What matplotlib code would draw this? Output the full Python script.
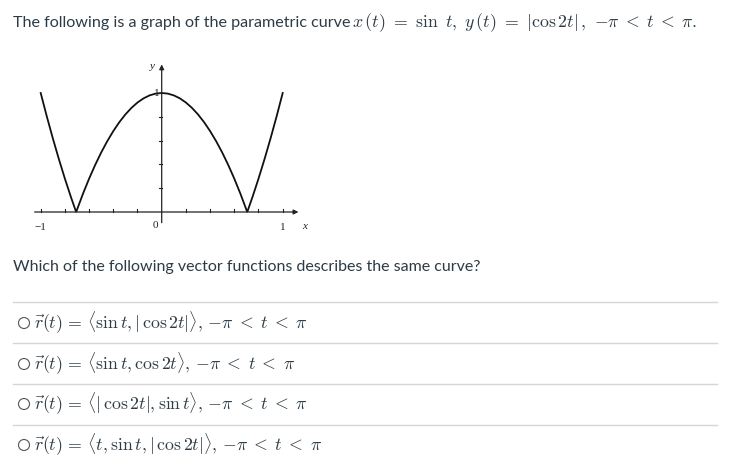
import matplotlib
matplotlib.use("Agg")
import matplotlib.pyplot as plt
from matplotlib.patches import Ellipse
from matplotlib.lines import Line2D

plt.rcParams['mathtext.fontset'] = 'cm'

W, H = 731, 475

# ---- data ----
curve_x = [-1.0, -0.95, -0.9, -0.85, -0.8, -0.75, -0.707, -0.65, -0.6, -0.55, -0.5,
           -0.45, -0.4, -0.35, -0.3, -0.25, -0.2, -0.15, -0.1, -0.05, 0.0,
           0.05, 0.1, 0.15, 0.2, 0.25, 0.3, 0.35, 0.4, 0.45, 0.5,
           0.55, 0.6, 0.65, 0.707, 0.75, 0.8, 0.85, 0.9, 0.95, 1.0]
curve_y = [1.0, 0.805, 0.62, 0.445, 0.28, 0.125, 0.0, 0.155, 0.28, 0.395, 0.5,
           0.595, 0.68, 0.755, 0.82, 0.875, 0.92, 0.955, 0.98, 0.995, 1.0,
           0.995, 0.98, 0.955, 0.92, 0.875, 0.82, 0.755, 0.68, 0.595, 0.5,
           0.395, 0.28, 0.155, 0.0, 0.125, 0.28, 0.445, 0.62, 0.805, 1.0]
x_ticks = [-1.0, -0.8, -0.6, -0.4, -0.2, 0.2, 0.4, 0.6, 0.8, 1.0]
y_ticks = [0.2, 0.4, 0.6, 0.8, 1.0]
x_tick_labels = {-1.0: '\u22121', 1.0: '1'}

title_text = "The following is a graph of the parametric curve"
title_math = r"$x\,(t)\ =\ \sin\ t,\ y\,(t)\ =\ |\cos 2t|\,,\ {-\pi}\; <\; t\; <\; \pi.$"
question = "Which of the following vector functions describes the same curve?"
options = [
    r"$\vec{r}(t)\,=\,\langle\sin t, |\,\cos 2t|\rangle,\, {-\pi}\;<\;t\;<\;\pi$",
    r"$\vec{r}(t)\,=\,\langle\sin t, \cos 2t\rangle,\, {-\pi}\;<\;t\;<\;\pi$",
    r"$\vec{r}(t)\,=\,\langle|\,\cos 2t|, \sin t\rangle,\, {-\pi}\;<\;t\;<\;\pi$",
    r"$\vec{r}(t)\,=\,\langle t, \sin t, |\,\cos 2t|\rangle,\, {-\pi}\;<\;t\;<\;\pi$",
]

fig = plt.figure(figsize=(W / 100, H / 100), dpi=100)
fig.patch.set_facecolor('white')


def fx(px):
    return px / W


def fy(py):
    return 1 - py / H


TXT = '#2d3b45'

# ---- texts ----
fig.text(fx(13), fy(23), title_text, family='Lato', fontsize=11.6, color=TXT,
         va='center', ha='left')
fig.text(fx(352), fy(23), title_math, fontsize=12.8, color=TXT, va='center', ha='left')
fig.text(fx(13), fy(267), question, family='Lato', fontsize=11.5, color=TXT,
         va='center', ha='left')

sep_y = [302, 343, 384, 425]
opt_y = [323, 364, 404, 445]
for yy in sep_y:
    fig.add_artist(Line2D([fx(13), fx(717)], [fy(yy), fy(yy)], color='#d6d6d6', lw=1.0))
for yy, s in zip(opt_y, options):
    fig.add_artist(Ellipse((fx(24), fy(yy)), 11 / W, 11 / H, fill=False,
                           edgecolor='#555555', lw=0.8))
    fig.text(fx(34), fy(yy), s, fontsize=12.8, color=TXT, va='center', ha='left')

# ---- plot ----
x_lo, x_hi = -1.1, 1.2
y_lo, y_hi = -0.15, 1.25
sx, sy = 121.0, 119.0
x0px, y0px = 161.7, 212.0
left_px = x0px + x_lo * sx
ax = fig.add_axes([fx(left_px), 1 - (y0px - y_lo * sy) / H,
                   (x_hi - x_lo) * sx / W, (y_hi - y_lo) * sy / H])
ax.set_xlim(x_lo, x_hi)
ax.set_ylim(y_lo, y_hi)
ax.axis('off')

ax.plot(curve_x, curve_y, color='#111111', lw=1.3, solid_joinstyle='miter')

# axes with arrows
ax.annotate('', xy=(1.13, 0), xytext=(-1.05, 0),
            arrowprops=dict(arrowstyle='-|>', color='#222222', lw=0.9,
                            mutation_scale=7, shrinkA=0, shrinkB=0))
ax.annotate('', xy=(0, 1.24), xytext=(0, -0.09),
            arrowprops=dict(arrowstyle='-|>', color='#222222', lw=0.9,
                            mutation_scale=7, shrinkA=0, shrinkB=0))
for t in x_ticks:
    ax.plot([t, t], [0, 0.025], color='#222222', lw=0.8)
for t in y_ticks:
    ax.plot([-0.025, 0], [t, t], color='#222222', lw=0.8)

serif = 'Liberation Serif'
for t, lab in x_tick_labels.items():
    ax.text(t, -0.13, lab, family=serif, fontsize=8, ha='center', va='center', color='#222222')
ax.text(-0.05, -0.11, '0', family=serif, fontsize=8, ha='center', va='center', color='#222222')
ax.text(-0.04, 1.0, '1', family=serif, fontsize=8, ha='center', va='center', color='#222222')
ax.text(1.18, -0.12, 'x', family=serif, style='italic', fontsize=8, ha='center', va='center',
        color='#222222')
ax.text(-0.08, 1.22, 'y', family=serif, style='italic', fontsize=8, ha='center', va='center',
        color='#222222')

fig.savefig('out.png', dpi=100, facecolor='white')
